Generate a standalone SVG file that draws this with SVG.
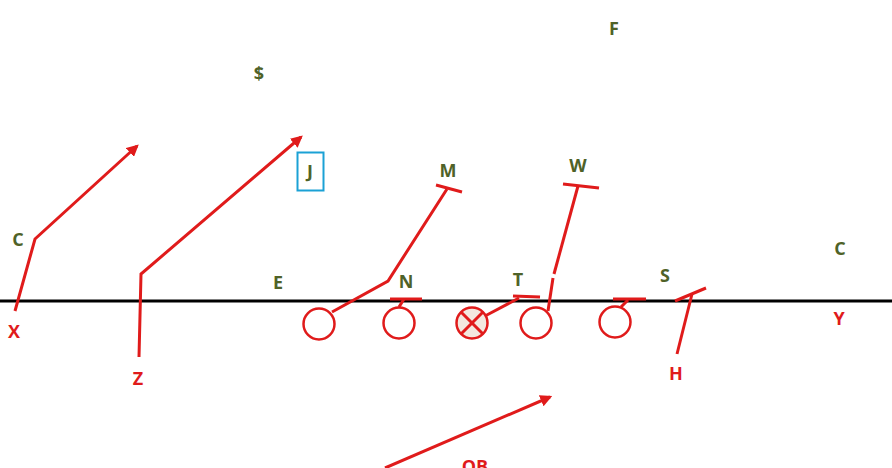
<svg xmlns="http://www.w3.org/2000/svg" width="892" height="468" viewBox="0 0 892 468">
<style>
.g{fill:#4f6228;font-family:"Open Sans","Liberation Sans",sans-serif;font-weight:bold;font-size:18px;text-anchor:middle}
.r{fill:#e01b1b;font-family:"Open Sans","Liberation Sans",sans-serif;font-weight:bold;font-size:18px;text-anchor:middle}
.ln{stroke:#e01b1b;stroke-width:3;fill:none}
.pl{stroke:#e01b1b;stroke-width:2.5;fill:#fff}
</style>
<defs>
<marker id="ah" viewBox="0 0 10 10" refX="8" refY="5" markerWidth="4" markerHeight="4" orient="auto" markerUnits="strokeWidth">
<path d="M0,0 L10,5 L0,10 z" fill="#e01b1b"/>
</marker>
</defs>
<rect width="892" height="468" fill="#fff"/>
<line x1="0" y1="301" x2="892" y2="301" stroke="#000" stroke-width="3"/>
<g id="connectors">
<polyline class="ln" points="15,311 35,239 137,146" marker-end="url(#ah)"/>
<polyline class="ln" points="139,357 141,274 301,137" marker-end="url(#ah)"/>
<polyline class="ln" points="332,312 388,281 447,189"/>
<line class="ln" x1="436" y1="185" x2="462" y2="192"/>
<line class="ln" x1="399" y1="307" x2="404" y2="299"/>
<line class="ln" x1="390" y1="299" x2="422" y2="299"/>
<line class="ln" x1="485" y1="316" x2="519" y2="298"/>
<line class="ln" x1="513" y1="296" x2="540" y2="297"/>
<line class="ln" x1="548" y1="311" x2="553" y2="278"/>
<line class="ln" x1="554" y1="274" x2="578" y2="186"/>
<line class="ln" x1="563" y1="184" x2="599" y2="188"/>
<line class="ln" x1="621" y1="307" x2="628" y2="300"/>
<line class="ln" x1="613" y1="299" x2="646" y2="299"/>
<line class="ln" x1="677" y1="354" x2="692" y2="294"/>
<line class="ln" x1="675" y1="301" x2="706" y2="288"/>
<line class="ln" x1="385" y1="468" x2="550" y2="397" marker-end="url(#ah)"/>
</g>
<g id="LT"><circle class="pl" cx="319" cy="324" r="15.5"/></g>
<g id="LG"><circle class="pl" cx="399" cy="323" r="15.5"/></g>
<g id="C"><circle class="pl" cx="472" cy="323" r="15.5" style="fill:#f3e8df"/>
<line class="ln" x1="461" y1="312" x2="483" y2="334"/><line class="ln" x1="483" y1="312" x2="461" y2="334"/></g>
<g id="RG"><circle class="pl" cx="536" cy="323" r="15.5"/></g>
<g id="RT"><circle class="pl" cx="615" cy="322" r="15.5"/></g>
<g id="Jbox"><rect x="297.5" y="152.5" width="26" height="38" fill="none" stroke="#1ba1d5" stroke-width="2"/><text class="g" x="310" y="178">J</text></g>
<g id="labels">
<text class="g" x="259" y="80">$</text>
<text class="g" x="614" y="35">F</text>
<text class="g" x="448" y="177">M</text>
<text class="g" x="578" y="172">W</text>
<text class="g" x="18" y="246">C</text>
<text class="g" x="278" y="289">E</text>
<text class="g" x="406" y="288">N</text>
<text class="g" x="518" y="286">T</text>
<text class="g" x="665" y="282">S</text>
<text class="g" x="840" y="255">C</text>
<text class="r" x="14" y="338">X</text>
<text class="r" x="138" y="385">Z</text>
<text class="r" x="676" y="380">H</text>
<text class="r" x="839" y="325">Y</text>
<text class="r" x="475" y="473">QB</text>
</g>
</svg>
